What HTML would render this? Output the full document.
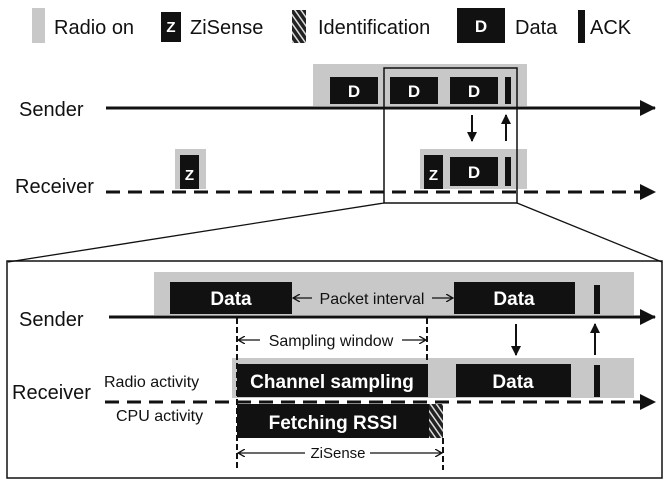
<!DOCTYPE html>
<html><head><meta charset="utf-8"><style>body{margin:0;background:#fff}svg{display:block}</style></head><body>
<svg width="672" height="490" viewBox="0 0 672 490" xmlns="http://www.w3.org/2000/svg" font-family="Liberation Sans, sans-serif">
<defs>
<pattern id="h" width="5" height="5" patternUnits="userSpaceOnUse" patternTransform="rotate(-35)"><rect width="5" height="5" fill="#222"/><rect width="1.5" height="5" fill="#ddd"/></pattern>
<marker id="a" markerWidth="10" markerHeight="10" refX="9" refY="5" orient="auto" markerUnits="userSpaceOnUse"><path d="M0,0 L10,5 L0,10 z" fill="#111"/></marker>
<marker id="s" markerWidth="8" markerHeight="8" refX="7" refY="4" orient="auto-start-reverse" markerUnits="userSpaceOnUse"><path d="M0,0 L7,4 L0,8" fill="none" stroke="#111" stroke-width="1.3"/></marker>
<marker id="ah" markerWidth="16" markerHeight="16" refX="15" refY="8" orient="auto" markerUnits="userSpaceOnUse"><path d="M0,0 L16,8 L0,16 z" fill="#111"/></marker>
</defs>
<!-- legend -->
<g font-size="20" fill="#111">
<rect x="32" y="8" width="13" height="35" fill="#c8c8c8"/><text x="54" y="34">Radio on</text>
<rect x="161" y="12" width="20" height="30" fill="#111"/><text x="171" y="32" fill="#fff" font-weight="bold" font-size="15" text-anchor="middle">Z</text><text x="190" y="34">ZiSense</text>
<rect x="292" y="10" width="14" height="33" fill="url(#h)"/><text x="318" y="34">Identification</text>
<rect x="457" y="8" width="48" height="35" fill="#111"/><text x="481" y="32" fill="#fff" font-weight="bold" font-size="17" text-anchor="middle">D</text><text x="515" y="34">Data</text>
<rect x="578" y="10" width="7" height="33" fill="#111"/><text x="590" y="34">ACK</text>
</g>
<!-- top sender -->
<rect x="313" y="64" width="214" height="42" fill="#c8c8c8"/>
<g fill="#111"><rect x="330" y="77" width="48" height="27"/><rect x="390" y="77" width="48" height="27"/><rect x="450" y="77" width="48" height="27"/><rect x="505" y="77" width="6" height="27"/></g>
<g fill="#fff" font-weight="bold" font-size="17" text-anchor="middle"><text x="354" y="97">D</text><text x="414" y="97">D</text><text x="474" y="97">D</text></g>
<text x="19" y="116" font-size="20" fill="#111">Sender</text>
<line x1="106" y1="108" x2="655" y2="108" stroke="#111" stroke-width="3" marker-end="url(#ah)"/>
<line x1="472" y1="115" x2="472" y2="141" stroke="#111" stroke-width="2" marker-end="url(#a)"/>
<line x1="506" y1="141" x2="506" y2="115" stroke="#111" stroke-width="2" marker-end="url(#a)"/>
<!-- top receiver -->
<rect x="175" y="149" width="31" height="40" fill="#c8c8c8"/><rect x="180" y="155" width="19" height="34" fill="#111"/>
<rect x="420" y="149" width="107" height="40" fill="#c8c8c8"/><rect x="424" y="155" width="19" height="34" fill="#111"/>
<rect x="450" y="157" width="48" height="29" fill="#111"/><rect x="505" y="157" width="6" height="29" fill="#111"/>
<g fill="#fff" font-weight="bold" text-anchor="middle"><text x="189.5" y="180" font-size="15">Z</text><text x="433.5" y="180" font-size="15">Z</text><text x="474" y="178" font-size="17">D</text></g>
<text x="15" y="193" font-size="20" fill="#111">Receiver</text>
<line x1="106" y1="192" x2="655" y2="192" stroke="#111" stroke-width="3" stroke-dasharray="14 8" marker-end="url(#ah)"/>
<rect x="384" y="68" width="133" height="135" fill="none" stroke="#111" stroke-width="1.5"/>
<line x1="384" y1="203" x2="8" y2="262" stroke="#111" stroke-width="1.3"/>
<line x1="517" y1="203" x2="662" y2="262" stroke="#111" stroke-width="1.3"/>
<!-- bottom -->
<rect x="7" y="261" width="655" height="217" fill="none" stroke="#111" stroke-width="1.5"/>
<rect x="154" y="272" width="480" height="43" fill="#c8c8c8"/>
<rect x="170" y="282" width="122" height="32" fill="#111"/><rect x="454" y="282" width="121" height="32" fill="#111"/><rect x="594" y="285" width="6" height="29" fill="#111"/>
<g fill="#fff" font-weight="bold" font-size="19" text-anchor="middle"><text x="231" y="305">Data</text><text x="514" y="305">Data</text></g>
<line x1="293" y1="298" x2="312" y2="298" stroke="#111" stroke-width="1.3" marker-start="url(#s)"/>
<line x1="432" y1="298" x2="453" y2="298" stroke="#111" stroke-width="1.3" marker-end="url(#s)"/>
<text x="372" y="304" font-size="16" text-anchor="middle" fill="#111">Packet interval</text>
<text x="19" y="326" font-size="20" fill="#111">Sender</text>
<line x1="109" y1="317" x2="655" y2="317" stroke="#111" stroke-width="3" marker-end="url(#ah)"/>
<line x1="516" y1="324" x2="516" y2="355" stroke="#111" stroke-width="2" marker-end="url(#a)"/>
<line x1="595" y1="355" x2="595" y2="324" stroke="#111" stroke-width="2" marker-end="url(#a)"/>
<rect x="232" y="358" width="402" height="40" fill="#c8c8c8"/>
<g stroke="#111" stroke-width="2" stroke-dasharray="6 3"><line x1="237" y1="318" x2="237" y2="470"/><line x1="427" y1="318" x2="427" y2="360"/><line x1="443" y1="438" x2="443" y2="470"/></g>
<line x1="238" y1="340" x2="260" y2="340" stroke="#111" stroke-width="1.3" marker-start="url(#s)"/>
<line x1="402" y1="340" x2="426" y2="340" stroke="#111" stroke-width="1.3" marker-end="url(#s)"/>
<text x="331" y="346" font-size="16" text-anchor="middle" fill="#111">Sampling window</text>
<rect x="237" y="364" width="191" height="33" fill="#111"/><rect x="456" y="364" width="115" height="33" fill="#111"/><rect x="594" y="365" width="6" height="32" fill="#111"/>
<g fill="#fff" font-weight="bold" font-size="19" text-anchor="middle"><text x="332" y="388">Channel sampling</text><text x="513" y="388">Data</text></g>
<text x="12" y="399" font-size="20" fill="#111">Receiver</text>
<text x="104" y="387" font-size="16" fill="#111">Radio activity</text>
<text x="116" y="421" font-size="16" fill="#111">CPU activity</text>
<line x1="105" y1="402" x2="655" y2="402" stroke="#111" stroke-width="3" stroke-dasharray="14 8" marker-end="url(#ah)"/>
<rect x="237" y="404" width="192" height="34" fill="#111"/><rect x="429" y="404" width="14" height="34" fill="url(#h)"/>
<text x="333" y="429" fill="#fff" font-weight="bold" font-size="19" text-anchor="middle">Fetching RSSI</text>
<line x1="238" y1="453" x2="305" y2="453" stroke="#111" stroke-width="1.3" marker-start="url(#s)"/>
<line x1="370" y1="453" x2="442" y2="453" stroke="#111" stroke-width="1.3" marker-end="url(#s)"/>
<text x="338" y="458" font-size="15" text-anchor="middle" fill="#111">ZiSense</text>
</svg>
</body></html>
